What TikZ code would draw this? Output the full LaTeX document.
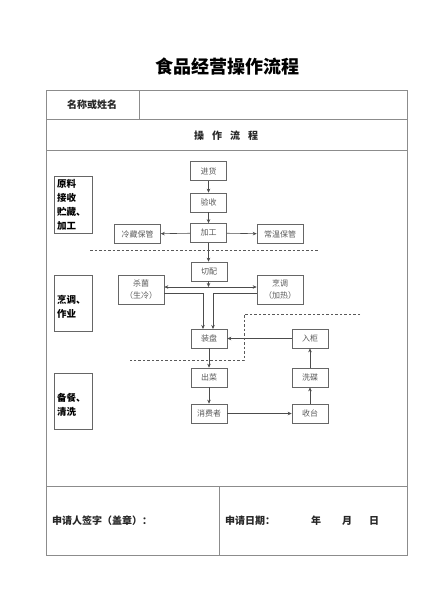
\documentclass[tikz,border=0pt]{standalone}
\usepackage{fontspec}
\setmainfont{Noto Sans CJK SC}
\newfontfamily\cjk{Noto Sans CJK SC}
\usetikzlibrary{arrows.meta}
\tikzset{
  tbl/.style={draw=black!45, line width=0.8pt},
  fbox/.style={draw=black!60, line width=0.6pt, minimum width=36pt, minimum height=19pt, inner sep=0pt, font=\fontsize{8}{9}\selectfont, text=black!65, align=center},
  wbox/.style={fbox, minimum width=46pt},
  tbox/.style={fbox, minimum width=46pt, minimum height=29pt, font=\fontsize{8}{12}\selectfont},
  lbox/.style={draw=black!60, line width=0.6pt, minimum width=38pt, minimum height=56pt, inner sep=3pt, font=\bfseries\fontsize{9.5}{14}\selectfont, align=left, text width=32pt},
  arr/.style={draw=black!70, line width=0.6pt, -{Stealth[length=4pt,width=3.5pt]}},
  dashsep/.style={draw=black!65, line width=0.6pt, dash pattern=on 2.5pt off 2pt},
  lab/.style={inner sep=0pt, font=\bfseries\fontsize{10}{12}\selectfont, text=black!85}
}
\begin{document}
\begin{tikzpicture}[x=1pt,y=-1pt]
\useasboundingbox (0,0) rectangle (441,600);
% title
\node[inner sep=0pt, font=\bfseries\fontsize{18}{20}\selectfont] (title) at (227,67) {食品经营操作流程};
% table
\draw[tbl] (46,90) rectangle (407,555);
\draw[tbl] (46,119) -- (407,119);
\draw[tbl] (46,150) -- (407,150);
\draw[tbl] (139,90) -- (139,119);
\draw[tbl] (46,486) -- (407,486);
\draw[tbl] (219,486) -- (219,555);
\node[lab] (name) at (92,105) {名称或姓名};
\node[lab] (ops) at (226,136) {操\hspace{8pt}作\hspace{8pt}流\hspace{8pt}程};
\node[lab, anchor=west] (sign) at (52,521) {申请人签字（盖章）：};
\node[lab, anchor=west] (date) at (225,521) {申请日期：};
\node[lab] (yr) at (316,521) {年};
\node[lab] (mo) at (347,521) {月};
\node[lab] (dy) at (374,521) {日};
% left labels
\node[lbox] (l1) at (73,205) {原料\\接收\\贮藏、\\加工};
\node[lbox] (l2) at (73,303.5) {\\烹调、\\作业\\};
\node[lbox] (l3) at (73,401.5) {\\备餐、\\清洗\\};
% flow boxes
\node[fbox] (jh) at (208.5,171) {进货};
\node[fbox] (ys) at (208.5,202.5) {验收};
\node[fbox] (jg) at (208.5,233) {加工};
\node[wbox] (lc) at (137.5,234) {冷藏保管};
\node[wbox] (cw) at (280,234) {常温保管};
\node[fbox] (qp) at (209,271.5) {切配};
\node[tbox] (sj) at (141,289.5) {杀菌\\（生冷）};
\node[tbox] (pt) at (280,289.5) {烹调\\（加热）};
\node[fbox] (zp) at (209,338.5) {装盘};
\node[fbox] (rg) at (310,338.5) {入柜};
\node[fbox] (cc) at (209,377.5) {出菜};
\node[fbox] (xd) at (310,377.5) {洗碟};
\node[fbox] (xf) at (209,413.5) {消费者};
\node[fbox] (st) at (310,413.5) {收台};
% connectors
\coordinate (j1) at (208.5,287);
\draw[arr] (jh) -- (ys);
\draw[arr] (ys) -- (jg);
\draw[arr] (jg) -- (lc);
\draw[arr] (jg) -- (cw);
\draw[arr] (jg.south) -- (qp.north -| jg.south);
\draw[arr] (qp.south -| j1) -- (j1);
\draw[arr] (j1) -- (sj.east |- j1);
\draw[arr] (j1) -- (pt.west |- j1);
\draw[arr] (sj.east |- 0,293) -| (203,329);
\draw[arr] (pt.west |- 0,293) -| (213,329);
\draw[arr] (rg) -- (zp);
\draw[arr] (zp) -- (cc);
\draw[arr] (cc) -- (xf);
\draw[arr] (xf) -- (st);
\draw[arr] (st) -- (xd);
\draw[arr] (xd) -- (rg);
% dashed separators
\draw[dashsep] (90,250) -- (318,250);
\draw[dashsep] (360,314) -- (244,314) -- (244,360) -- (130,360);
\end{tikzpicture}
\end{document}
